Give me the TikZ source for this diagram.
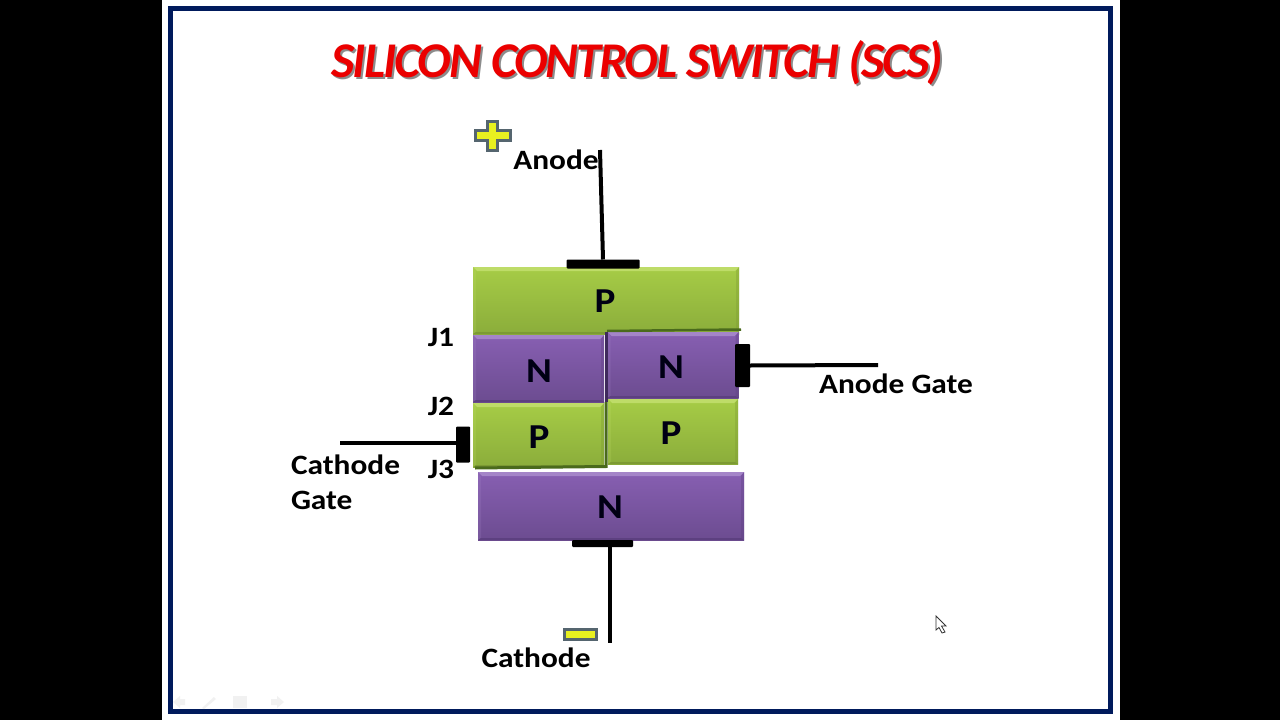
\documentclass[tikz,border=0pt]{standalone}
\usepackage{fontspec}
\newfontfamily\labfont[FakeStretch=1.12]{Carlito}
\newfontfamily\titlefont[LetterSpace=-4.2]{Carlito}
\usetikzlibrary{shadings}
\definecolor{frameblue}{HTML}{001A5C}
\definecolor{greentop}{HTML}{A6CC46}
\definecolor{greenbot}{HTML}{8BAD3B}
\definecolor{greenhi}{HTML}{BEDC68}
\definecolor{greenlo}{HTML}{7C9A33}
\definecolor{purpletop}{HTML}{875FB2}
\definecolor{purplebot}{HTML}{6C4C90}
\definecolor{purplehi}{HTML}{A485C8}
\definecolor{purplelo}{HTML}{5D4080}
\definecolor{signfill}{HTML}{E8F020}
\definecolor{signedge}{HTML}{55656F}
\definecolor{faint}{HTML}{F1F1F1}
\tikzset{
  x=1pt,y=-1pt,
  block/.style={inner sep=0pt,outer sep=0pt,font=\labfont\bfseries\fontsize{35}{35}\selectfont,text=black!92!blue},
  greenblock/.style={block,top color=greentop,bottom color=greenbot},
  purpleblock/.style={block,top color=purpletop,bottom color=purplebot},
  lab/.style={inner sep=0pt,font=\labfont\bfseries\fontsize{28}{35}\selectfont,text=black,align=left},
  contact/.style={fill=black,inner sep=0pt,outer sep=0pt,rounded corners=1pt},
  wire/.style={draw=black,line width=4pt},
  sign/.style={fill=signfill,draw=signedge,line width=3pt},
  ghost/.style={fill=faint},
}
% #1 name, #2 hi colour, #3 lo colour: bevelled edges of a block
\newcommand{\bevel}[3]{%
  \fill[#2] (#1.north west)--(#1.north east)--([xshift=-4pt,yshift=-4pt]#1.north east)--([xshift=4pt,yshift=-4pt]#1.north west)--cycle;
  \fill[#2,opacity=.2] (#1.north west)--(#1.south west)--([xshift=3pt,yshift=2pt]#1.south west)--([xshift=3pt,yshift=-4pt]#1.north west)--cycle;
  \fill[#3,opacity=.35] (#1.north east)--(#1.south east)--([xshift=-3pt,yshift=2pt]#1.south east)--([xshift=-3pt,yshift=-4pt]#1.north east)--cycle;
  \fill[#3] (#1.south west)--(#1.south east)--([xshift=-3pt,yshift=2pt]#1.south east)--([xshift=3pt,yshift=2pt]#1.south west)--cycle;
}
\begin{document}
\begin{tikzpicture}
\useasboundingbox (0,0) rectangle (1280,720);
\fill[black] (0,0) rectangle (1280,720);
\fill[white] (162,0) rectangle (1120,720);
\draw[frameblue,line width=5pt] (170,8) rectangle (1110,711);

% faint slide-show controls
\path[ghost] (173,702)--(180,696)--(180,699)--(185,699)--(185,705)--(180,705)--(180,708)--cycle;
\path[ghost] (202,708)--(214,697)--(216,699)--(204,709)--cycle;
\path[ghost] (233,696) rectangle (247,708);
\path[ghost] (277,699)--(271,699)--(271,705)--(277,705)--(277,708)--(284,702)--(277,696)--cycle;

% title
\node[text=black!45,inner sep=0pt,font=\titlefont\bfseries\itshape\fontsize{50}{50}\selectfont] (titleshadow) at (639.5,65) {SILICON CONTROL SWITCH (SCS)};
\node[text=red!92!black,inner sep=0pt,font=\titlefont\bfseries\itshape\fontsize{50}{50}\selectfont] (title) at (637.5,63) {SILICON CONTROL SWITCH (SCS)};

% semiconductor layers
\node[greenblock,minimum width=266pt,minimum height=67pt] (ptop) at (606,300.5) {};
\bevel{ptop}{greenhi}{greenlo}
\node[purpleblock,minimum width=131pt,minimum height=67pt] (nleft) at (538.5,368.5) {};
\bevel{nleft}{purplehi}{purplelo}
\node[purpleblock,minimum width=131pt,minimum height=66pt] (nright) at (673,365) {};
\bevel{nright}{purplehi}{purplelo}
\node[greenblock,minimum width=131pt,minimum height=64pt] (pleft) at (538.5,435) {};
\bevel{pleft}{greenhi}{greenlo}
\node[greenblock,minimum width=130pt,minimum height=65pt] (pright) at (673,431.5) {};
\bevel{pright}{greenhi}{greenlo}
\node[purpleblock,minimum width=266pt,minimum height=68pt] (nbot) at (611,506) {};
\bevel{nbot}{purplehi}{purplelo}

% dark seams
\definecolor{seamgreen}{HTML}{4A6A1C}
\definecolor{seampurple}{HTML}{3F2A5C}
\draw[seamgreen,line width=2.5pt] (607,331) -- (741,329.5);
\draw[seampurple,line width=3pt] (606,332) -- (606,402);
\draw[seamgreen,line width=3pt] (606,402) -- (606,466.5) -- (475,468);

% layer letters
\node[block] (lptop) at (605,301) {P};
\node[block] (lnleft) at (539,371) {N};
\node[block] (lnright) at (671,367) {N};
\node[block] (lpleft) at (539,437) {P};
\node[block] (lpright) at (671,433) {P};
\node[block] (lnbot) at (610,507) {N};

% contacts
\node[contact,minimum width=73pt,minimum height=9pt] (ctop) at (603,264) {};
\node[contact,minimum width=15pt,minimum height=43pt] (cright) at (742.5,365.5) {};
\node[contact,minimum width=14pt,minimum height=36pt] (cleft) at (463,444.5) {};
\node[contact,minimum width=61pt,minimum height=7pt] (cbot) at (602.5,543.5) {};

% leads
\coordinate (anodeend) at (600,150);
\coordinate (agend) at (878,365);
\coordinate (cgend) at (340,443);
\coordinate (cathend) at (610,643);
\draw[wire] (anodeend) -- (ctop.north);
\draw[wire] (cright.east) -- (agend);
\draw[wire] (cgend) -- (cleft.west |- cgend);
\draw[wire] (cbot.south -| cathend) -- (cathend);

% labels
\node[lab] (anode) at (556,160) {Anode};
\node[lab] (anodegate) at (896,384) {Anode Gate};
\node[lab] (cathodegate) at (345.5,482.5) {Cathode\\Gate};
\node[lab] (cathode) at (536,658) {Cathode};
\node[lab] (j1) at (441,337) {J1};
\node[lab] (j2) at (441,406) {J2};
\node[lab] (j3) at (441,469) {J3};

% polarity signs
\path[sign] (487,121)--(497,121)--(497,130)--(510,130)--(510,140)--(497,140)--(497,150)--(487,150)--(487,140)--(475,140)--(475,130)--(487,130)--cycle;
\path[sign] (564,629) rectangle (596,639);

% mouse cursor
\path[fill=white,draw=black!80,line width=.8pt] (936,616)--(946,626)--(941.5,626)--(945,632)--(942,633)--(939,627.5)--(936,630)--cycle;
\end{tikzpicture}
\end{document}
